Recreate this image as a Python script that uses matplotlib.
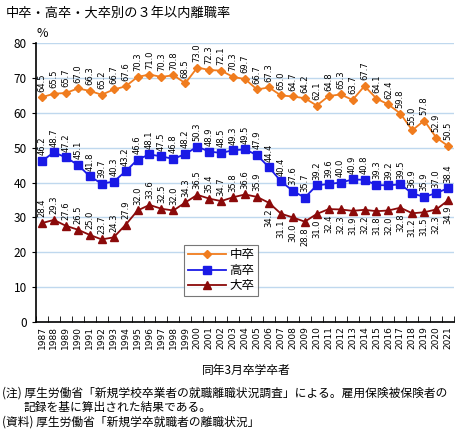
import matplotlib
matplotlib.use("Agg")
import matplotlib.pyplot as plt
import numpy as np

plt.rcParams['font.family'] = ['Noto Sans CJK JP', 'DejaVu Sans']

years = list(range(1987, 2022))
chusotsu = [64.5, 65.5, 65.7, 67.0, 66.3, 65.2, 66.7, 67.6, 70.3, 71.0, 70.3, 70.8, 68.5,
            73.0, 72.3, 72.1, 70.3, 69.7, 66.7, 67.3, 65.0, 64.7, 64.2, 62.1, 64.8, 65.3,
            63.7, 67.7, 64.1, 62.4, 59.8, 55.0, 57.8, 52.9, 50.5]
kousotsu = [46.2, 48.7, 47.2, 45.1, 41.8, 39.7, 40.3, 43.2, 46.6, 48.1, 47.5, 46.8, 48.2,
            50.3, 48.9, 48.5, 49.3, 49.5, 47.9, 44.4, 40.4, 37.6, 35.7, 39.2, 39.6, 40.0,
            40.9, 40.8, 39.3, 39.2, 39.5, 36.9, 35.9, 37.0, 38.4]
daisotsu = [28.4, 29.3, 27.6, 26.5, 25.0, 23.7, 24.3, 27.9, 32.0, 33.6, 32.5, 32.0, 34.3,
            36.5, 35.4, 34.7, 35.8, 36.6, 35.9, 34.2, 31.1, 30.0, 28.8, 31.0, 32.4, 32.3,
            31.9, 32.2, 31.8, 32.0, 32.8, 31.2, 31.5, 32.3, 34.9]

fig = plt.figure(figsize=(4.74, 4.40), dpi=100)
ax = fig.add_axes([0.076, 0.268, 0.882, 0.634])

x = np.arange(len(years))
series = [
    ("中卒", chusotsu, "#F07C1E", "D", 4),
    ("高卒", kousotsu, "#1A1AE6", "s", 5.5),
    ("大卒", daisotsu, "#8B0A0A", "^", 5.5),
]
for name, vals, col, mk, ms in series:
    ax.plot(x, vals, color=col, marker=mk, markersize=ms, linewidth=1.3, label=name)

# data labels (大卒 below the line from 2006)
def label(i, v, below=False):
    if below:
        ax.annotate(f"{v:.1f}", (i, v), xytext=(0, -4), textcoords="offset points",
                    rotation=90, ha="center", va="top", fontsize=6, family="DejaVu Sans")
    else:
        ax.annotate(f"{v:.1f}", (i, v), xytext=(0, 4), textcoords="offset points",
                    rotation=90, ha="center", va="bottom", fontsize=6, family="DejaVu Sans")

for i, v in enumerate(chusotsu):
    label(i, v)
for i, v in enumerate(kousotsu):
    label(i, v)
for i, v in enumerate(daisotsu):
    label(i, v, below=years[i] > 2005)

ax.set_xlim(-0.5, len(years) - 0.5)
ax.set_ylim(0, 80)
ax.set_yticks(range(0, 81, 10))
ax.tick_params(axis="y", labelsize=8.5, length=3, direction="out")
ax.set_xticks(x)
ax.set_xticklabels([str(y) for y in years], rotation=90, fontsize=6.5, family="DejaVu Sans")
ax.set_xticks(np.arange(-0.5, len(years), 1), minor=True)
ax.tick_params(axis="x", which="major", length=0, pad=3)
ax.tick_params(axis="x", which="minor", length=4, direction="in")
ax.grid(axis="y", color="#BFD8EE", linewidth=1)
ax.set_axisbelow(True)
for s in ["top", "right"]:
    ax.spines[s].set_visible(False)
ax.spines["left"].set_linewidth(1.2)
ax.spines["bottom"].set_linewidth(1.2)

ax.text(-0.5, 81, "%", fontsize=9, ha="left", va="bottom")

leg = ax.legend(loc="upper left", bbox_to_anchor=(0.34, 0.3), fontsize=9, frameon=True,
                fancybox=False, edgecolor="#555555", handlelength=3, borderpad=0.3,
                labelspacing=0.2, handletextpad=0.3)
leg.get_frame().set_linewidth(0.8)

fig.text(0.52, 1 - 370 / 440, "同年3月卒学卒者", fontsize=8.5, ha="center", va="center")

fig.text(0.012, 1 - 13 / 440, "中卒・高卒・大卒別の３年以内離職率", fontsize=9.5, ha="left", va="center")

fig.text(0.005, 1 - 393 / 440, "(注) 厚生労働省「新規学校卒業者の就職離職状況調査」による。雇用保険被保険者の",
         fontsize=8.45, ha="left", va="center")
fig.text(0.05, 1 - 407 / 440, "記録を基に算出された結果である。", fontsize=8.45, ha="left", va="center")
fig.text(0.005, 1 - 422 / 440, "(資料) 厚生労働省「新規学卒就職者の離職状況」", fontsize=8.45, ha="left", va="center")

fig.savefig("out.png", dpi=100)
